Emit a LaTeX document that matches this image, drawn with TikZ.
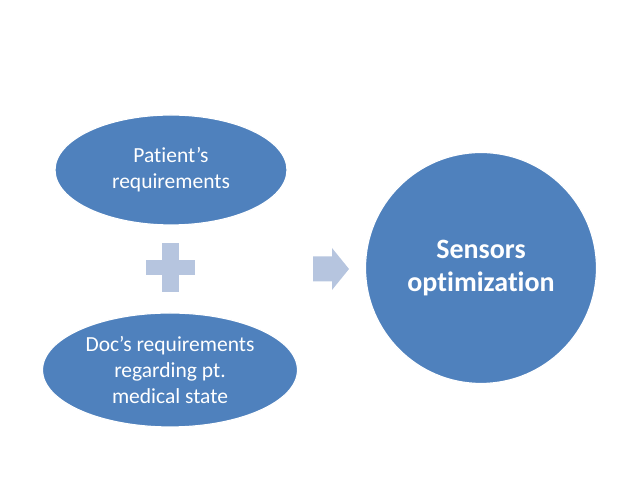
\documentclass[tikz,border=0pt]{standalone}
\usepackage{fontspec}
\setmainfont[Ligatures=NoCommon]{Carlito}
\usetikzlibrary{shapes.geometric}
\definecolor{mainblue}{RGB}{79,129,189}
\definecolor{lightblue}{RGB}{182,197,223}
\tikzset{
  blob/.style={ellipse, fill=mainblue, draw=white, line width=1.2pt, inner sep=0pt, text=white, align=center, font=\fontsize{21.5}{26}\selectfont},
  bigcircle/.style={circle, fill=mainblue, draw=white, line width=1.2pt, inner sep=0pt, text=white, align=center, font=\fontsize{28}{33}\selectfont\bfseries},
  lightshape/.style={fill=lightblue, draw=none}
}
\begin{document}
\begin{tikzpicture}[x=1pt,y=1pt]
\useasboundingbox (0,0) rectangle (638,478);
\node[blob, minimum width=232pt, minimum height=110pt] (patient) at (171,308) {Patient’s\\requirements};
\node[blob, minimum width=255pt, minimum height=114pt] (doc) at (170,108) {Doc’s requirements\\regarding pt.\\medical state};
\node[bigcircle, minimum size=231pt] (sensors) at (481,210) {Sensors\\optimization};
% plus sign
\coordinate (plus) at (170,210);
\fill[lightshape] ([xshift=-24.5pt,yshift=-7.5pt]plus) rectangle ([xshift=24.5pt,yshift=7.5pt]plus);
\fill[lightshape] ([xshift=-8.5pt,yshift=-24.5pt]plus) rectangle ([xshift=8.5pt,yshift=24.5pt]plus);
% arrow
\coordinate (arr) at (313,209);
\fill[lightshape] ([yshift=-12.5pt]arr) -- ++(19,0) -- ++(0,-8.5) -- ++(17,21) -- ++(-17,21) -- ++(0,-8.5) -- ++(-19,0) -- cycle;
\end{tikzpicture}
\end{document}
